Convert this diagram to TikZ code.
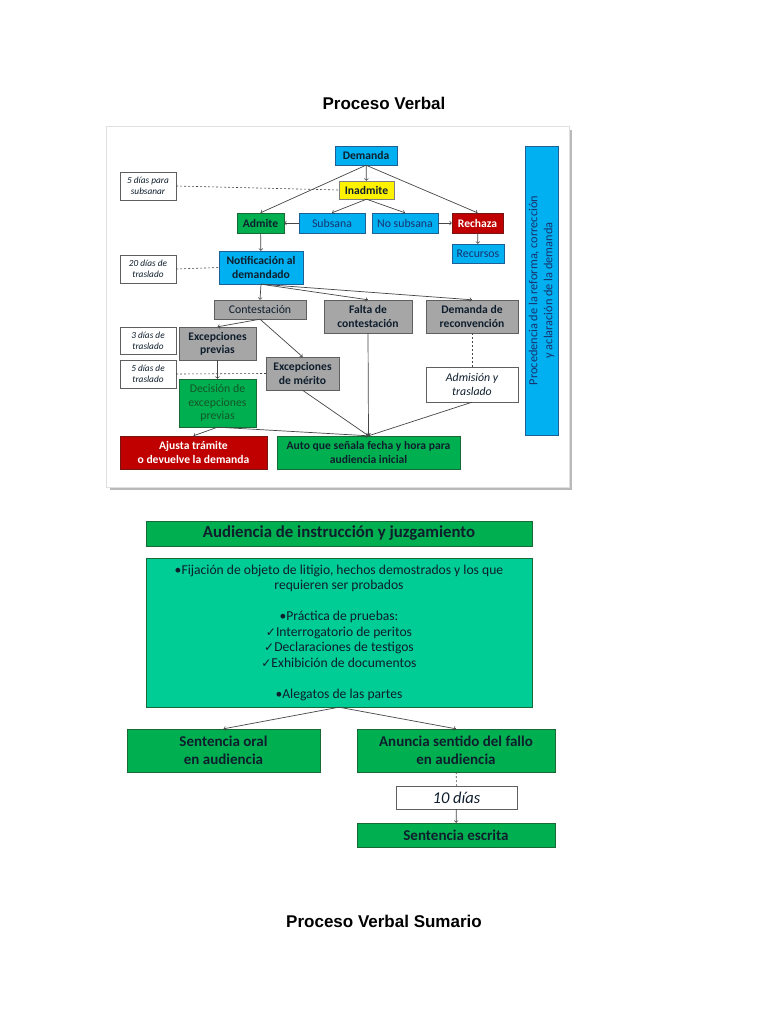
\documentclass[tikz,border=0pt]{standalone}
\usepackage{fontspec}
\setmainfont{Carlito}
\newfontfamily\titlefont{Liberation Sans}
\newfontfamily\checkfont{DejaVu Sans}
\usetikzlibrary{shapes,arrows,positioning}
\definecolor{skyblue}{RGB}{0,176,240}
\definecolor{blueedge}{RGB}{30,95,150}
\definecolor{okgreen}{RGB}{0,176,80}
\definecolor{greenedge}{RGB}{25,105,55}
\definecolor{alertred}{RGB}{192,0,0}
\definecolor{rededge}{RGB}{120,20,20}
\definecolor{midgray}{RGB}{166,166,166}
\definecolor{grayedge}{RGB}{95,95,95}
\definecolor{tealgreen}{RGB}{0,204,150}
\definecolor{inkdark}{RGB}{15,30,45}
\definecolor{navyink}{RGB}{25,50,110}
\definecolor{leafink}{RGB}{20,85,40}
\definecolor{linegray}{RGB}{70,70,70}
\tikzstyle{flowbox} = [rectangle, draw, inner sep=1pt, align=center,
    font=\fontsize{11.6}{13.3}\selectfont\bfseries, text=inkdark]
\tikzstyle{bluebox} = [flowbox, fill=skyblue, draw=blueedge]
\tikzstyle{yellowbox} = [flowbox, fill=yellow, draw=gray]
\tikzstyle{greenbox} = [flowbox, fill=okgreen, draw=greenedge]
\tikzstyle{redbox} = [flowbox, fill=alertred, draw=rededge, text=white]
\tikzstyle{graybox} = [flowbox, fill=midgray, draw=grayedge]
\tikzstyle{plainfont} = [font=\fontsize{11.8}{13.5}\selectfont]
\tikzstyle{note} = [rectangle, draw=grayedge, fill=white, align=center,
    font=\fontsize{9.3}{11}\selectfont\itshape, text=inkdark,
    minimum width=56, minimum height=28]
\tikzstyle{line} = [draw, ->, linegray, line width=0.7pt]
\tikzstyle{dashline} = [draw, linegray, line width=0.6pt, dash pattern=on 2pt off 2pt]
\tikzstyle{heading} = [font=\titlefont\fontsize{17}{20}\selectfont\bfseries]
\newcommand{\tick}{{\checkfont\fontsize{12}{15.5}\selectfont ✓}}
\begin{document}
\begin{tikzpicture}[x=1pt, y=-1pt, auto]
        \useasboundingbox (0,0) rectangle (768,1024);
        \fill [white] (0,0) rectangle (768,1024);
        \node [heading] (titulo) at (384,103) {Proceso Verbal};
        \fill [gray!55] (110,130) rectangle (572,490);
        \draw [gray!25, fill=white] (106,126) rectangle (569,487);

        \node [bluebox, minimum width=62, minimum height=19] (demanda) at (366,155.5) {Demanda};
        \node [yellowbox, minimum width=55, minimum height=18] (inadmite) at (366.5,190) {Inadmite};
        \node [greenbox, minimum width=47, minimum height=20] (admite) at (260.5,223) {Admite};
        \node [bluebox, plainfont, text=navyink, minimum width=66, minimum height=20] (subsana) at (332,223) {Subsana};
        \node [bluebox, plainfont, text=navyink, minimum width=66, minimum height=20] (nosubsana) at (405,223) {No subsana};
        \node [redbox, minimum width=51, minimum height=20] (rechaza) at (477.5,223) {Rechaza};
        \node [bluebox, plainfont, text=navyink, minimum width=52, minimum height=19] (recursos) at (478,253.5) {Recursos};
        \node [note] (plazosubsanar) at (148,186) {5 días para\\subsanar};
        \node [note] (plazotraslado) at (148,269) {20 días de\\traslado};
        \node [bluebox, minimum width=84, minimum height=33] (notificacion) at (261,267.5) {Notificación al\\demandado};
        \node [graybox, plainfont, minimum width=92, minimum height=19] (contestacion) at (260,309.5) {Contestación};
        \node [graybox, minimum width=88, minimum height=33] (falta) at (368,316.5) {Falta de\\contestación};
        \node [graybox, minimum width=92, minimum height=33] (reconvencion) at (472,316.5) {Demanda de\\reconvención};
        \node [note, minimum height=27] (plazoprevias) at (148,340.5) {3 días de\\traslado};
        \node [graybox, minimum width=77, minimum height=33] (previas) at (217.5,343.5) {Excepciones\\previas};
        \node [note] (plazomerito) at (148,374) {5 días de\\traslado};
        \node [graybox, minimum width=73, minimum height=33] (merito) at (302.5,373.5) {Excepciones\\de mérito};
        \node [greenbox, plainfont, text=leafink, minimum width=77, minimum height=48] (decision) at (217.5,403) {Decisión de\\excepciones\\previas};
        \node [note, font=\fontsize{11.8}{14}\selectfont\itshape, minimum width=92, minimum height=35] (admision) at (472,384.5) {Admisión y\\traslado};
        \node [redbox, minimum width=147, minimum height=33] (ajusta) at (193.5,452.5) {Ajusta trámite\\o devuelve la demanda};
        \node [greenbox, minimum width=183, minimum height=33] (auto) at (368.5,452.5) {Auto que señala fecha y hora para\\audiencia inicial};
        \node [bluebox, font=\fontsize{12.3}{15}\selectfont, text=navyink, rotate=90, minimum width=289, minimum height=33] (reforma) at (541.5,290.5) {Procedencia de la reforma, corrección\\y aclaración de la demanda};

        \path [line] (demanda) -- (inadmite);
        \path [line] (demanda.south) -- (admite.north);
        \path [line] (demanda.south) -- (rechaza.north);
        \path [line] (inadmite.south) -- (subsana.north);
        \path [line] (inadmite.south) -- (nosubsana.north);
        \path [line] (subsana) -- (admite);
        \path [line] (nosubsana) -- (rechaza);
        \path [line] (rechaza) -- (recursos);
        \path [line] (admite) -- (notificacion);
        \path [dashline] (plazosubsanar.east) -- (inadmite.west);
        \path [dashline] (plazotraslado.east) -- (notificacion.west);
        \path [line] (notificacion.south) -- (contestacion.north);
        \path [line] (notificacion.south) -- (falta.north);
        \path [line] (notificacion.south) -- (reconvencion.north);
        \path [line] (contestacion.south) -- (previas.north);
        \path [line] (contestacion.south) -- (merito.north);
        \path [line] (previas) -- (decision);
        \path [dashline] (plazomerito.east) -- (merito.west);
        \path [dashline] (reconvencion) -- (admision);
        \path [line] (decision.south) -- (ajusta.north);
        \path [line] (decision.south) -- (auto.north);
        \path [line] (merito.south) -- (auto.north);
        \path [line] (falta.south) -- (auto.north);
        \path [line] (admision.south) -- (auto.north);

        \node [greenbox, font=\fontsize{16.8}{19}\selectfont\bfseries, minimum width=386, minimum height=25] (audiencia) at (339,533.5) {Audiencia de instrucción y juzgamiento};
        \node [flowbox, fill=tealgreen, draw=greenedge, font=\fontsize{13.6}{15.5}\selectfont, minimum width=386, minimum height=149] (temas) at (339,632.5) {•Fijación de objeto de litigio, hechos demostrados y los que\\requieren ser probados\\[15.5pt]•Práctica de pruebas:\\\tick Interrogatorio de peritos\\\tick Declaraciones de testigos\\\tick Exhibición de documentos\\[15.5pt]•Alegatos de las partes};
        \node [greenbox, font=\fontsize{15}{18}\selectfont\bfseries, minimum width=193, minimum height=43] (oral) at (223.5,750.5) {Sentencia oral\\en audiencia};
        \node [greenbox, font=\fontsize{15}{18}\selectfont\bfseries, minimum width=198, minimum height=43] (anuncia) at (456,750.5) {Anuncia sentido del fallo\\en audiencia};
        \node [note, font=\fontsize{16.5}{18}\selectfont\itshape, minimum width=121, minimum height=23] (diezdias) at (456.5,797.5) {10 días};
        \node [greenbox, font=\fontsize{15}{18}\selectfont\bfseries, minimum width=198, minimum height=24] (escrita) at (456,835) {Sentencia escrita};

        \path [line] (temas.south) -- (oral.north);
        \path [line] (temas.south) -- (anuncia.north);
        \path [dashline] (anuncia) -- (diezdias);
        \path [line] (diezdias) -- (escrita);

        \node [heading] (sumario) at (384,921) {Proceso Verbal Sumario};
    \end{tikzpicture}
\end{document}
